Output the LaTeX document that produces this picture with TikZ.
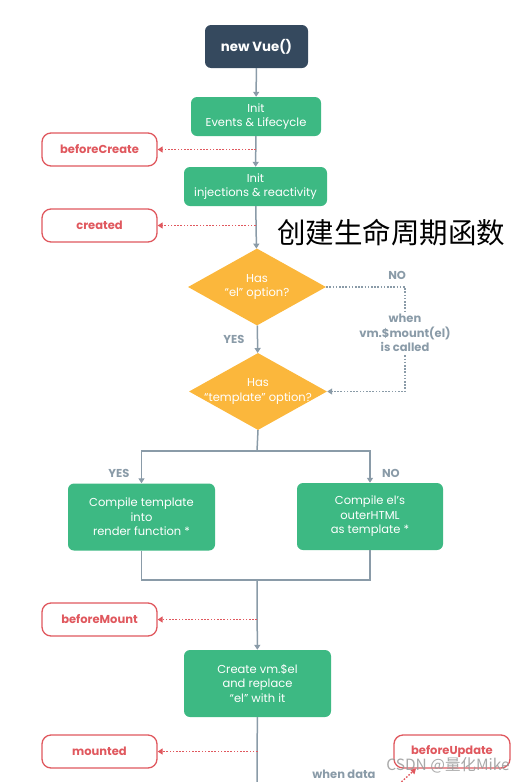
\documentclass[tikz,border=0pt]{standalone}
\usepackage{fontspec}
\setmainfont{Poppins}
\newfontfamily\cjk{Noto Sans CJK SC}
\usetikzlibrary{arrows.meta,shapes.geometric}

\definecolor{vuenavy}{HTML}{35495E}
\definecolor{vuegreen}{HTML}{3DB983}
\definecolor{vueorange}{HTML}{FBB73C}
\definecolor{hookred}{HTML}{E0585E}
\definecolor{linegray}{HTML}{8A9BA8}

\tikzset{
  stepbox/.style={fill=vuegreen, text=white, rounded corners=6pt, align=center,
    inner sep=0pt, font=\fontsize{11.5}{14.5}\selectfont},
  hookbox/.style={draw=hookred, line width=1.3pt, fill=white, text=hookred,
    rounded corners=9pt, minimum width=115pt, minimum height=33pt,
    font=\fontsize{11.5}{13}\selectfont\bfseries},
  decision/.style={diamond, fill=vueorange, inner sep=0pt,
    minimum width=138pt, minimum height=77pt},
  flow/.style={draw=linegray, line width=1.5pt, -{Triangle[length=5pt,width=6pt]}},
  hook/.style={draw=hookred, dash pattern=on 1.6pt off 1.6pt, line width=1.4pt,
    -{Triangle[length=5pt,width=6pt]}},
  wait/.style={draw=linegray, dash pattern=on 1.6pt off 1.6pt, line width=1.4pt},
  tag/.style={text=linegray, font=\fontsize{11.5}{14.5}\selectfont\bfseries, align=center},
}

\begin{document}
\begin{tikzpicture}[x=1pt, y=-1pt]
  \useasboundingbox (0,0) rectangle (527,782);

  % main steps
  \node[stepbox, fill=vuenavy, minimum width=103pt, minimum height=43pt,
    font=\fontsize{13.3}{15}\selectfont\bfseries] (vue) at (256.5,46.5) {new Vue()};
  \node[stepbox, minimum width=130pt, minimum height=39pt] (initev) at (256,116.5)
    {Init\\Events \& Lifecycle};
  \node[stepbox, minimum width=143pt, minimum height=39pt] (initinj) at (255.5,186.5)
    {Init\\injections \& reactivity};

  % decisions
  \node[decision, label={[align=center, text=white, font=\fontsize{11.5}{14.5}\selectfont]center:Has\\“el” option?}]
    (hasel) at (257,287) {};
  \node[decision, label={[align=center, text=white, font=\fontsize{11.5}{14.5}\selectfont]center:Has\\“template” option?}]
    (hastpl) at (258,391.5) {};

  % compile steps
  \node[stepbox, minimum width=147pt, minimum height=67pt] (comptpl) at (141.5,517)
    {Compile template\\into\\render function *};
  \node[stepbox, minimum width=146pt, minimum height=67pt] (compel) at (370,516.5)
    {Compile el’s\\outerHTML\\as template *};
  \node[stepbox, minimum width=147pt, minimum height=67pt] (createel) at (257.5,683.5)
    {Create vm.\$el\\and replace\\“el” with it};

  % hooks
  \foreach \name/\hy/\txt in {bcreate/149.5/beforeCreate, created/225.5/created,
      bmount/619.5/beforeMount, mounted/751.5/mounted} {
    \node[hookbox] (\name) at (99.5,\hy) {\txt};
  }
  \node[hookbox, minimum width=116pt] (bupdate) at (452,751.5) {beforeUpdate};

  % flow
  \draw[flow] (vue) -- (initev);
  \draw[flow] (initev) -- (initinj);
  \draw[flow] (initinj) -- (hasel);
  \draw[flow] (hasel) -- (hastpl) node[tag, midway, left=9pt] {YES};
  \coordinate (split) at (257,451);
  \coordinate (merge) at (257,580);
  \coordinate (bottom) at (257,782);
  \draw[flow, -] (hastpl.south) -- (split);
  \draw[flow] (split) -| (comptpl.north) node[tag, pos=0.85, left=8pt] {YES};
  \draw[flow] (split) -| (compel.north) node[tag, pos=0.85, right=8pt] {NO};
  \draw[flow, -] (comptpl.south) |- (merge) -| (compel.south);
  \draw[flow] (merge) -- (createel);
  \draw[flow, -] (createel) -- (bottom);

  % no el: wait for $mount
  \node[tag] (mountnote) at (405,333) {when\\vm.\$mount(el)\\is called};
  \draw[wait] (hasel.east) -| (mountnote.north) node[tag, pos=0.45, above=3pt] {NO};
  \draw[wait, -{Triangle[length=5pt,width=6pt]}] (mountnote.south) |- (hastpl.east);

  % hook calls
  \foreach \name/\from in {bcreate/initev, created/initinj, bmount/merge, mounted/createel} {
    \draw[hook] (\name.east -| \from) -- (\name.east);
  }

  % data change
  \node[tag] (whendata) at (344,774) {when data};
  \coordinate (updfrom) at (399,784);
  \draw[hook] (updfrom) -- (bupdate.south -| 416,0);

  % notes
  \node[font=\cjk\fontsize{28.5}{30}\selectfont] (title) at (391,233) {创建生命周期函数};
  \node[text=black!40, opacity=0.85, font=\cjk\fontsize{15.5}{17}\selectfont] (mark) at (448,765) {CSDN @量化Mike};
\end{tikzpicture}
\end{document}
